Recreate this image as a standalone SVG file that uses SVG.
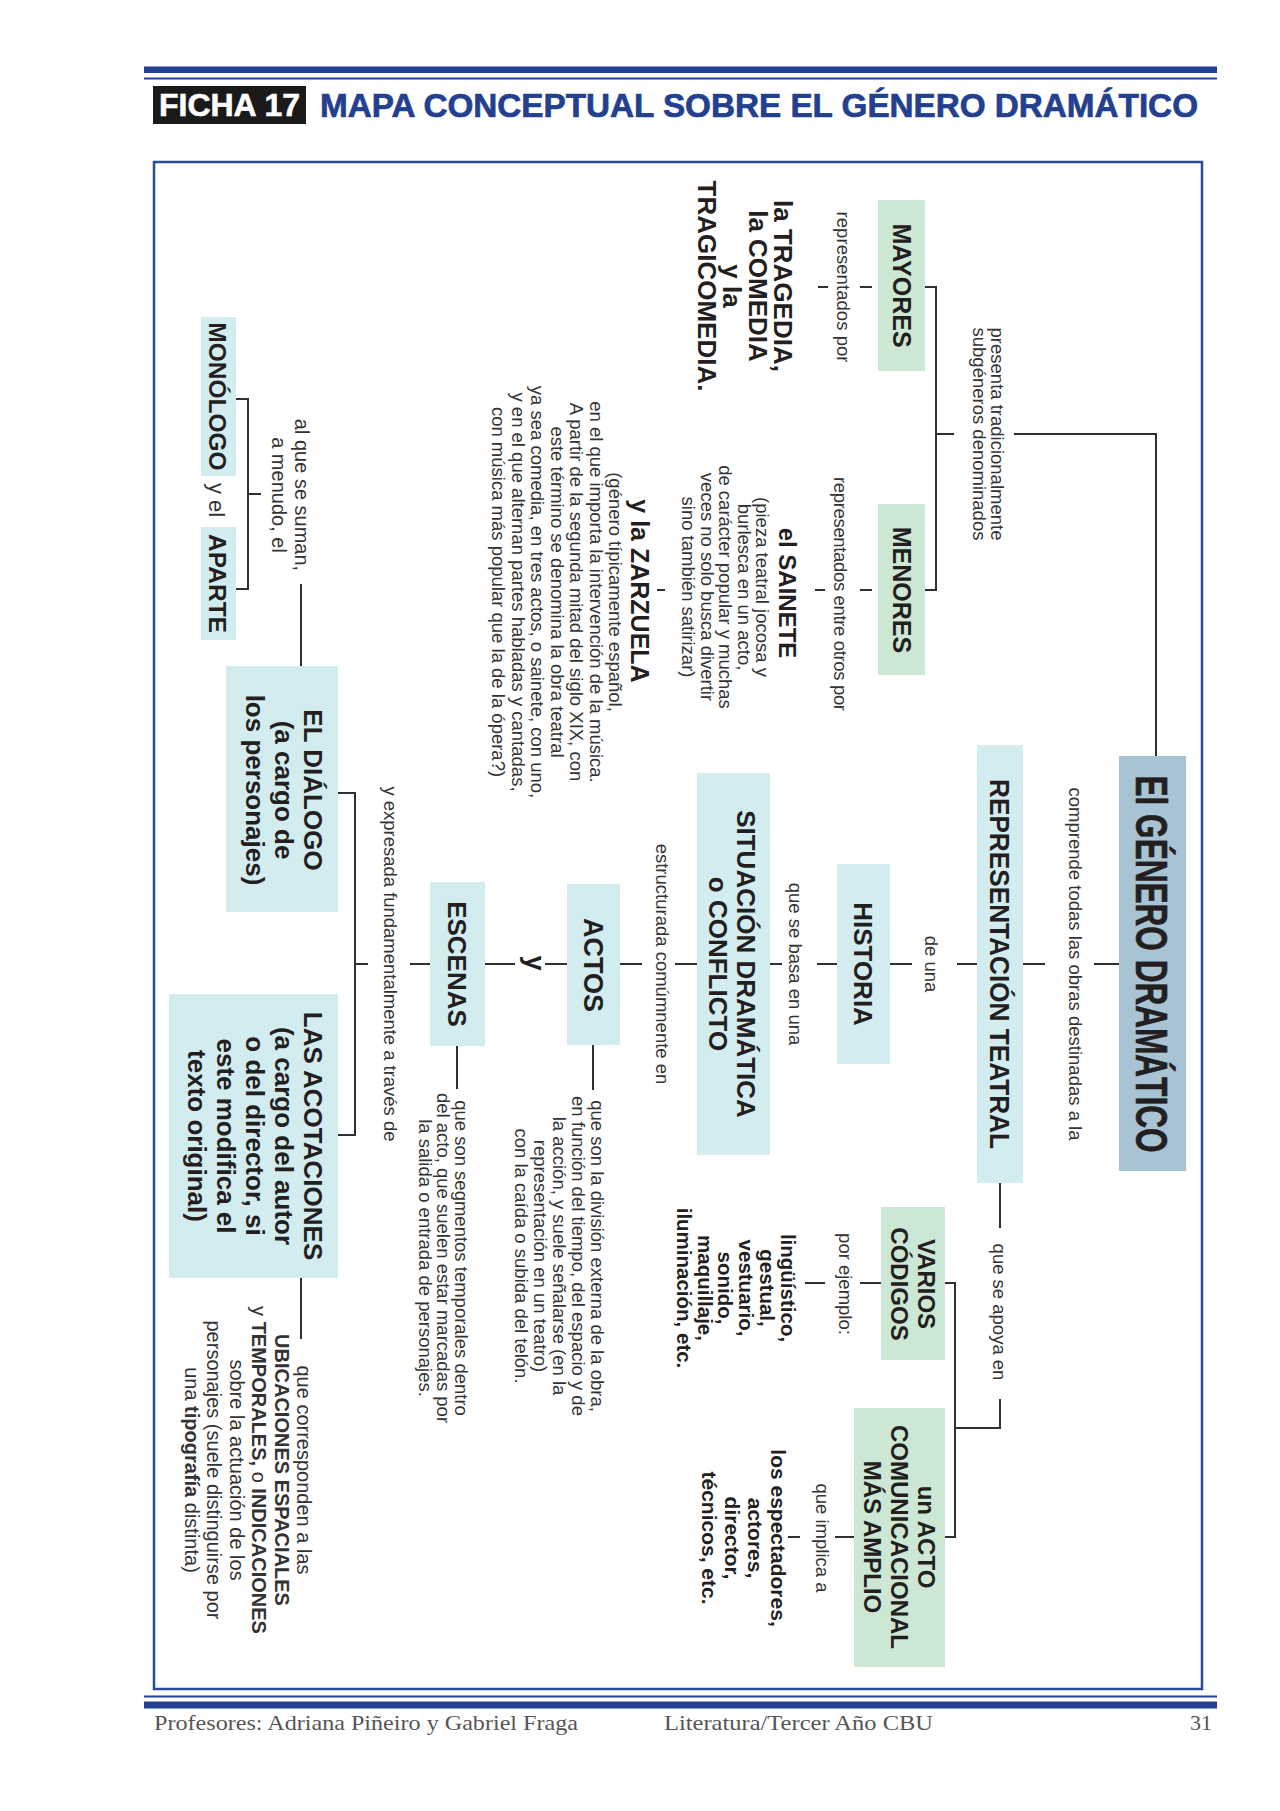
<svg xmlns="http://www.w3.org/2000/svg" width="1280" height="1811" viewBox="0 0 1280 1811">
<style>
text{font-family:"Liberation Sans",Arial,Helvetica,sans-serif;text-anchor:middle;fill:#231f20}
.b{font-weight:bold}
.r{font-size:18.5px;fill:#333}
.ft{font-family:"Liberation Serif","Times New Roman",serif;font-size:22px;fill:#555;text-anchor:start}
.g{fill:#cde7d5}
.c{fill:#d3ecf0}
.m{fill:#a8c4d4}
.ln{fill:none;stroke:#2f2f2f;stroke-width:2}
.bar{fill:#233f8f}
</style>
<rect width="1280" height="1811" fill="#fff"/>

<g id="header">
<rect class="bar" x="144" y="66.5" width="1073" height="6.5"/>
<rect class="bar" x="144" y="77.5" width="1073" height="2"/>
<rect x="153" y="86" width="153" height="38" fill="#1a1a1a"/>
<text class="b" x="229.5" y="116" style="font-size:31px;fill:#fff;stroke:#fff;stroke-width:0.6" textLength="141" lengthAdjust="spacingAndGlyphs">FICHA 17</text>
<text class="b" x="759" y="117" style="font-size:33px;fill:#233f8f;stroke:#233f8f;stroke-width:0.7" textLength="878" lengthAdjust="spacingAndGlyphs">MAPA CONCEPTUAL SOBRE EL GÉNERO DRAMÁTICO</text>
</g>

<rect id="frame" x="154" y="162" width="1048" height="1527" fill="none" stroke="#2b4a9b" stroke-width="2.5"/>

<g id="connectors" class="ln">
<path d="M1156,756 V434 H1014"/>
<path d="M954,434 H936"/>
<path d="M925,287 H936 V590 H925"/>
<path d="M872,287 H860"/>
<path d="M828,287 H818"/>
<path d="M872,590 H860"/>
<path d="M825,590 H815"/>
<path d="M665,590 H657"/>
<path d="M1119,964 H1094"/>
<path d="M1045,964 H1023"/>
<path d="M977,964 H957"/>
<path d="M912,964 H890"/>
<path d="M837,964 H817"/>
<path d="M782,964 H770"/>
<path d="M697,964 H675"/>
<path d="M642,964 H620"/>
<path d="M567,964 H545"/>
<path d="M515,964 H485"/>
<path d="M430,964 H410"/>
<path d="M368,964 H355"/>
<path d="M338,793 H355 V1135 H338"/>
<path d="M593,1045 V1090"/>
<path d="M457,1046 V1089"/>
<path d="M301,666 V584"/>
<path d="M261,494 H248"/>
<path d="M236,399 H248 V589 H236"/>
<path d="M301,1278 V1339"/>
<path d="M1000,1183 V1228"/>
<path d="M1000,1399 V1428 H955"/>
<path d="M945,1283 H955 V1537 H945"/>
<path d="M881,1283 H860"/>
<path d="M825,1283 H805"/>
<path d="M854,1537 H835"/>
<path d="M800,1537 H788"/>
</g>

<g id="labels">
<text class="r" transform="translate(991 434) rotate(90)"><tspan x="0" y="0">presenta tradicionalmente</tspan><tspan x="0" y="18">subgéneros denominados</tspan></text>
<text class="r" transform="translate(837 287) rotate(90)" textLength="151">representados por</text>
<text class="r" transform="translate(834 594) rotate(90)" textLength="234">representados entre otros por</text>
<text class="r" transform="translate(1069 964) rotate(90)" textLength="353">comprende todas las obras destinadas a la</text>
<text class="r" transform="translate(925 964) rotate(90)">de una</text>
<text class="r" transform="translate(789 964) rotate(90)">que se basa en una</text>
<text class="r" transform="translate(656 964) rotate(90)">estructurada comúmnente en</text>
<text class="b" style="font-size:27px" transform="translate(526 963) rotate(90)">y</text>
<text class="r" transform="translate(384 964) rotate(90)" textLength="355">y expresada fundamentalmente a través de</text>
<text class="r" transform="translate(993 1312) rotate(90)">que se apoya en</text>
<text class="r" transform="translate(839 1284) rotate(90)">por ejemplo:</text>
<text class="r" transform="translate(816 1538) rotate(90)">que implica a</text>
<text class="r" style="font-size:20px" transform="translate(295 495) rotate(90)"><tspan x="0" y="0">al que se suman,</tspan><tspan x="0" y="23">a menudo, el</tspan></text>
<text class="r" style="font-size:22px" transform="translate(209 500) rotate(90)">y el</text>
</g>

<g id="n-genero">
<rect class="m" x="1119" y="756" width="67" height="415"/>
<text class="b" style="font-size:44px;stroke:#231f20;stroke-width:0.6" textLength="377" lengthAdjust="spacingAndGlyphs" transform="translate(1136 964) rotate(90)">El GÉNERO DRAMÁTICO</text>
</g>

<g id="n-mayores">
<rect class="g" x="878" y="200" width="47" height="171"/>
<text class="b" style="font-size:25px" transform="translate(892.5 285.5) rotate(90)">MAYORES</text>
</g>

<g id="n-menores">
<rect class="g" x="878" y="504" width="47" height="171"/>
<text class="b" style="font-size:25px" transform="translate(892.5 590) rotate(90)">MENORES</text>
</g>

<g id="n-tragedia">
<text class="b" style="font-size:26px" transform="translate(774 286) rotate(90)"><tspan x="0" y="0">la TRAGEDIA,</tspan><tspan x="0" y="25.5">la COMEDIA</tspan><tspan x="0" y="51">y la</tspan><tspan x="0" y="76.5">TRAGICOMEDIA.</tspan></text>
</g>

<g id="n-sainete">
<text class="b" style="font-size:24px" transform="translate(779 593) rotate(90)">el SAINETE</text>
<text class="r" transform="translate(756 587) rotate(90)"><tspan x="0" y="0">(pieza teatral jocosa y</tspan><tspan x="0" y="18.5">burlesca en un acto,</tspan><tspan x="0" y="37">de carácter popular y muchas</tspan><tspan x="0" y="55.5">veces no solo busca divertir</tspan><tspan x="0" y="74">sino también satirizar)</tspan></text>
</g>

<g id="n-zarzuela">
<text class="b" style="font-size:25px" transform="translate(631 591) rotate(90)">y la ZARZUELA</text>
<text class="r" transform="translate(609 592) rotate(90)"><tspan x="0" y="0">(género típicamente español,</tspan><tspan x="0" y="19.5">en el que importa la intervención de la música.</tspan><tspan x="0" y="39">A partir de la segunda mitad del siglo XIX, con</tspan><tspan x="0" y="58.5">este término se denomina la obra teatral</tspan><tspan x="0" y="78">ya sea comedia, en tres actos, o sainete, con uno,</tspan><tspan x="0" y="97.5">y en el que alternan partes habladas y cantadas,</tspan><tspan x="0" y="117">con música más popular que la de la ópera?)</tspan></text>
</g>

<g id="n-representacion">
<rect class="c" x="977" y="745" width="46" height="438"/>
<text class="b" style="font-size:27px" textLength="370" lengthAdjust="spacingAndGlyphs" transform="translate(990 964) rotate(90)">REPRESENTACIÓN TEATRAL</text>
</g>

<g id="n-historia">
<rect class="c" x="837" y="864" width="53" height="200"/>
<text class="b" style="font-size:26px" transform="translate(854 964) rotate(90)">HISTORIA</text>
</g>

<g id="n-situacion">
<rect class="c" x="697" y="773" width="73" height="382"/>
<text class="b" style="font-size:26px" transform="translate(737 964) rotate(90)"><tspan x="0" y="0">SITUACIÓN DRAMÁTICA</tspan><tspan x="0" y="28">o CONFLICTO</tspan></text>
</g>

<g id="n-actos">
<rect class="c" x="567" y="884" width="53" height="161"/>
<text class="b" style="font-size:27px" transform="translate(584 965) rotate(90)">ACTOS</text>
</g>

<g id="n-actos-def">
<text class="r" transform="translate(591 1256) rotate(90)"><tspan x="0" y="0">que son la división externa de la obra,</tspan><tspan x="0" y="19">en función del tiempo, del espacio y de</tspan><tspan x="0" y="38">la acción, y suele señalarse (en la</tspan><tspan x="0" y="57">representación en un teatro)</tspan><tspan x="0" y="76">con la caída o subida del telón.</tspan></text>
</g>

<g id="n-escenas">
<rect class="c" x="430" y="882" width="55" height="164"/>
<text class="b" style="font-size:26px" transform="translate(448 964) rotate(90)">ESCENAS</text>
</g>

<g id="n-escenas-def">
<text class="r" transform="translate(455 1258) rotate(90)"><tspan x="0" y="0">que son segmentos temporales dentro</tspan><tspan x="0" y="18">del acto, que suelen estar marcadas por</tspan><tspan x="0" y="36">la salida o entrada de personajes.</tspan></text>
</g>

<g id="n-dialogo">
<rect class="c" x="226" y="666" width="112" height="246"/>
<text class="b" style="font-size:26px" transform="translate(303.5 790) rotate(90)"><tspan x="0" y="0">EL DIÁLOGO</tspan><tspan x="0" y="29">(a cargo de</tspan><tspan x="0" y="58">los personajes)</tspan></text>
</g>

<g id="n-acotaciones">
<rect class="c" x="169" y="994" width="169" height="284"/>
<text class="b" style="font-size:26px" transform="translate(303.5 1136) rotate(90)"><tspan x="0" y="0">LAS ACOTACIONES</tspan><tspan x="0" y="29">(a cargo del autor</tspan><tspan x="0" y="58">o del director, si</tspan><tspan x="0" y="87">este modifica el</tspan><tspan x="0" y="116">texto original)</tspan></text>
</g>

<g id="n-acotaciones-def">
<text class="r" style="font-size:20px" transform="translate(297 1470) rotate(90)"><tspan x="0" y="0">que corresponden a las</tspan><tspan x="0" y="22.4" class="b">UBICACIONES ESPACIALES</tspan><tspan x="0" y="44.8">y <tspan class="b">TEMPORALES,</tspan> o <tspan class="b">INDICACIONES</tspan></tspan><tspan x="0" y="67.2">sobre la actuación de los</tspan><tspan x="0" y="89.6">personajes (suele distinguirse por</tspan><tspan x="0" y="112">una <tspan class="b">tipografía</tspan> distinta)</tspan></text>
</g>

<g id="n-monologo">
<rect class="c" x="201" y="317" width="35" height="159"/>
<text class="b" style="font-size:24.5px" transform="translate(209 396.5) rotate(90)">MONÓLOGO</text>
</g>

<g id="n-aparte">
<rect class="c" x="201" y="527" width="35" height="113"/>
<text class="b" style="font-size:24.5px" transform="translate(209 583.5) rotate(90)">APARTE</text>
</g>

<g id="n-codigos">
<rect class="g" x="881" y="1207" width="64" height="153"/>
<text class="b" style="font-size:24px" transform="translate(918 1284) rotate(90)"><tspan x="0" y="0">VARIOS</tspan><tspan x="0" y="27">CÓDIGOS</tspan></text>
</g>

<g id="n-codigos-list">
<text class="b" style="font-size:20.5px" transform="translate(781 1288) rotate(90)"><tspan x="0" y="0">lingüístico,</tspan><tspan x="0" y="21">gestual,</tspan><tspan x="0" y="42">vestuario,</tspan><tspan x="0" y="63">sonido,</tspan><tspan x="0" y="83">maquillaje,</tspan><tspan x="0" y="104">iluminación, etc.</tspan></text>
</g>

<g id="n-acto">
<rect class="g" x="854" y="1408" width="91" height="259"/>
<text class="b" style="font-size:24px" transform="translate(918 1537) rotate(90)"><tspan x="0" y="0">un ACTO</tspan><tspan x="0" y="27">COMUNICACIONAL</tspan><tspan x="0" y="54">MÁS AMPLIO</tspan></text>
</g>

<g id="n-acto-list">
<text class="b" style="font-size:21px" transform="translate(771 1538) rotate(90)"><tspan x="0" y="0">los espectadores,</tspan><tspan x="0" y="23">actores,</tspan><tspan x="0" y="46">director,</tspan><tspan x="0" y="69">técnicos, etc.</tspan></text>
</g>

<g id="footer">
<rect class="bar" x="144" y="1695.5" width="1073" height="2"/>
<rect class="bar" x="144" y="1701.5" width="1073" height="7"/>
<text class="ft" x="154" y="1730" textLength="424" lengthAdjust="spacingAndGlyphs">Profesores: Adriana Piñeiro y Gabriel Fraga</text>
<text class="ft" x="664" y="1730" textLength="269" lengthAdjust="spacingAndGlyphs">Literatura/Tercer Año CBU</text>
<text class="ft" x="1212" y="1730" style="text-anchor:end">31</text>
</g>
</svg>
